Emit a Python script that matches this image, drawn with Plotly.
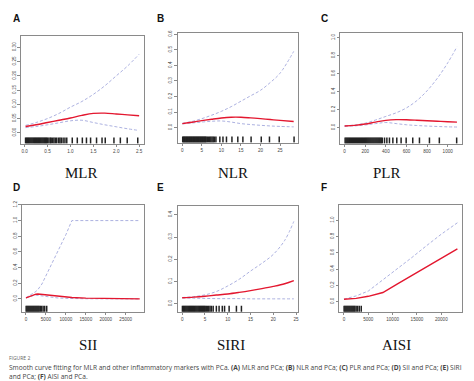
import plotly.graph_objects as go

W, H = 474, 381          # target window
OFF = 8                  # browser default body margin
FW, FH = W - OFF, H - OFF

# ---------------- data ----------------
# A: MLR
A_x = [0.02, 0.25, 0.5, 0.75, 1.0, 1.25, 1.5, 1.75, 2.0, 2.25, 2.5]
A_fit = [0.022, 0.028, 0.036, 0.044, 0.052, 0.061, 0.068, 0.069, 0.066, 0.063, 0.060]
A_upper = [0.026, 0.036, 0.050, 0.068, 0.090, 0.110, 0.135, 0.165, 0.200, 0.235, 0.276]
A_lower = [0.018, 0.022, 0.028, 0.035, 0.042, 0.044, 0.036, 0.028, 0.021, 0.014, 0.008]
A_rug = [0.02, 0.04, 0.06, 0.08, 0.1, 0.12, 0.14, 0.16, 0.18, 0.2, 0.22, 0.24, 0.26, 0.28,
         0.3, 0.32, 0.34, 0.36, 0.38, 0.4, 0.42, 0.44, 0.46, 0.48, 0.5, 0.53, 0.56, 0.58,
         0.61, 0.64, 0.67, 0.7, 0.74, 0.77, 0.8, 0.84, 0.88, 0.92, 1.04, 1.15, 1.26, 1.35,
         1.44, 1.57, 1.69, 1.76, 1.95, 2.09, 2.24, 2.47]
A_xticks = [0.0, 0.5, 1.0, 1.5, 2.0, 2.5]
A_xtext = ["0.0", "0.5", "1.0", "1.5", "2.0", "2.5"]
A_yticks = [0.0, 0.05, 0.10, 0.15, 0.20, 0.25, 0.30]
A_ytext = ["0.00", "0.05", "0.10", "0.15", "0.20", "0.25", "0.30"]

# B: NLR
B_x = [0, 2.5, 5, 7.5, 10, 12.5, 15, 17.5, 20, 22.5, 25, 28.5]
B_fit = [0.026, 0.035, 0.045, 0.054, 0.062, 0.067, 0.067, 0.063, 0.058, 0.052, 0.047, 0.040]
B_upper = [0.028, 0.040, 0.058, 0.080, 0.105, 0.135, 0.170, 0.205, 0.240, 0.290, 0.350, 0.490]
B_lower = [0.024, 0.030, 0.036, 0.041, 0.043, 0.036, 0.026, 0.020, 0.015, 0.011, 0.008, 0.005]
B_rug = [0.1, 0.3, 0.5, 0.7, 0.9, 1.1, 1.3, 1.5, 1.7, 1.9, 2.1, 2.3, 2.5, 2.7, 2.9, 3.1, 3.3,
         3.5, 3.7, 3.9, 4.1, 4.3, 4.5, 4.7, 4.9, 5.1, 5.3, 5.5, 5.7, 5.9, 6.1, 6.4, 6.7,
         7.0, 7.3, 7.6, 7.9, 8.2, 8.6, 9.6, 10.4, 11.3, 12.7, 14.2, 15.5, 17.6, 20.2, 22.3,
         24.8, 28.6]
B_xticks = [0, 5, 10, 15, 20, 25]
B_xtext = ["0", "5", "10", "15", "20", "25"]
B_yticks = [0.0, 0.1, 0.2, 0.3, 0.4, 0.5, 0.6]
B_ytext = ["0.0", "0.1", "0.2", "0.3", "0.4", "0.5", "0.6"]

# C: PLR
C_x = [0, 100, 200, 300, 400, 500, 600, 700, 800, 900, 1000, 1090]
C_fit = [0.018, 0.025, 0.040, 0.062, 0.081, 0.089, 0.088, 0.083, 0.077, 0.071, 0.066, 0.062]
C_upper = [0.020, 0.030, 0.050, 0.085, 0.125, 0.165, 0.220, 0.300, 0.410, 0.550, 0.720, 0.900]
C_lower = [0.016, 0.020, 0.030, 0.045, 0.057, 0.045, 0.032, 0.024, 0.018, 0.013, 0.009, 0.007]
C_rug = [5, 15, 25, 35, 45, 55, 65, 75, 85, 95, 105, 115, 125, 135, 145, 155, 165, 175, 185,
         195, 205, 215, 225, 235, 245, 255, 265, 275, 285, 295, 305, 315, 325, 335, 345,
         355, 365, 387, 410, 435, 468, 506, 548, 597, 661, 726, 823, 919, 1087]
C_xticks = [0, 200, 400, 600, 800, 1000]
C_xtext = ["0", "200", "400", "600", "800", "1000"]
C_yticks = [0.0, 0.2, 0.4, 0.6, 0.8, 1.0]
C_ytext = ["0.0", "0.2", "0.4", "0.6", "0.8", "1.0"]

# D: SII
D_x = [0, 1000, 2000, 2500, 3000, 4000, 6000, 8000, 10000, 11500, 15000, 20000, 25000, 28500]
D_fit = [0.013, 0.035, 0.055, 0.060, 0.063, 0.058, 0.045, 0.033, 0.022, 0.017, 0.010, 0.005, 0.002, 0.000]
D_upper = [0.015, 0.045, 0.075, 0.095, 0.120, 0.190, 0.400, 0.610, 0.820, 1.000, 1.000, 1.000, 1.000, 1.000]
D_lower = [0.011, 0.030, 0.045, 0.048, 0.045, 0.035, 0.020, 0.012, 0.007, 0.004, 0.002, 0.001, 0.0005, 0.0]
D_rug = [50, 300, 550, 800, 1050, 1300, 1550, 1800, 2050, 2300, 2550, 2800, 3050, 3300,
         3600, 3900, 4300, 4700, 5200]
D_xticks = [0, 5000, 10000, 15000, 20000, 25000]
D_xtext = ["0", "5000", "10000", "15000", "20000", "25000"]
D_yticks = [0.0, 0.2, 0.4, 0.6, 0.8, 1.0, 1.2]
D_ytext = ["0.0", "0.2", "0.4", "0.6", "0.8", "1.0", "1.2"]

# E: SIRI
E_x = [0, 2.5, 5, 7.5, 10, 12.5, 15, 17.5, 20, 22.5, 24.5]
E_fit = [0.027, 0.030, 0.034, 0.039, 0.044, 0.051, 0.059, 0.068, 0.078, 0.090, 0.104]
E_upper = [0.028, 0.032, 0.040, 0.055, 0.080, 0.110, 0.147, 0.182, 0.222, 0.285, 0.370]
E_lower = [0.026, 0.025, 0.024, 0.023, 0.023, 0.023, 0.022, 0.022, 0.022, 0.022, 0.022]
E_rug = [0.05, 0.25, 0.45, 0.65, 0.85, 1.05, 1.25, 1.45, 1.65, 1.85, 2.05, 2.25, 2.45, 2.65,
         2.85, 3.05, 3.25, 3.45, 3.65, 3.85, 4.05, 4.25, 4.45, 4.65, 4.85, 5.05, 5.3, 5.55,
         5.8, 6.1, 6.4, 6.8, 7.5, 8.1, 8.8, 9.3, 10.3, 11.9, 13.0]
E_xticks = [0, 5, 10, 15, 20, 25]
E_xtext = ["0", "5", "10", "15", "20", "25"]
E_yticks = [0.0, 0.1, 0.2, 0.3, 0.4]
E_ytext = ["0.0", "0.1", "0.2", "0.3", "0.4"]

# F: AISI
F_x = [0, 2500, 5000, 8000, 11000, 14000, 17000, 20000, 23300]
F_fit = [0.028, 0.040, 0.065, 0.112, 0.218, 0.324, 0.429, 0.534, 0.650]
F_upper = [0.030, 0.070, 0.130, 0.265, 0.400, 0.545, 0.690, 0.830, 0.970]
F_lower = []
F_rug = [30, 230, 430, 630, 830, 1030, 1230, 1430, 1630, 1830, 2030, 2230, 2500, 2800,
         3150, 3550]
F_xticks = [0, 5000, 10000, 15000, 20000]
F_xtext = ["0", "5000", "10000", "15000", "20000"]
F_yticks = [0.0, 0.2, 0.4, 0.6, 0.8, 1.0]
F_ytext = ["0.0", "0.2", "0.4", "0.6", "0.8", "1.0"]

panel_letters = ["A", "B", "C", "D", "E", "F"]
panel_titles = ["MLR", "NLR", "PLR", "SII", "SIRI", "AISI"]

# ---------------- layout geometry (window pixels) ----------------
panels = [
    dict(x=A_x, fit=A_fit, up=A_upper, lo=A_lower, rug=A_rug, xt=A_xticks, xtt=A_xtext,
         yt=A_yticks, ytt=A_ytext, xr=[-0.08, 2.6], yr=[-0.038, 0.341],
         box=(21, 144, 32, 141), lab=(17, 15), tit=(82, 171), shape="spline"),
    dict(x=B_x, fit=B_fit, up=B_upper, lo=B_lower, rug=B_rug, xt=B_xticks, xtt=B_xtext,
         yt=B_yticks, ytt=B_ytext, xr=[-1.2, 29.7], yr=[-0.096, 0.61],
         box=(178, 299, 29, 140), lab=(161, 15), tit=(233, 171), shape="spline"),
    dict(x=C_x, fit=C_fit, up=C_upper, lo=C_lower, rug=C_rug, xt=C_xticks, xtt=C_xtext,
         yt=C_yticks, ytt=C_ytext, xr=[-42, 1139], yr=[-0.177, 1.055],
         box=(341, 463, 29, 141), lab=(325, 15), tit=(388, 171), shape="spline"),
    dict(x=D_x, fit=D_fit, up=D_upper, lo=D_lower, rug=D_rug, xt=D_xticks, xtt=D_xtext,
         yt=D_yticks, ytt=D_ytext, xr=[-1000, 29500], yr=[-0.164, 1.2],
         box=(22, 144, 203, 311), lab=(17, 185), tit=(88, 345), shape="linear"),
    dict(x=E_x, fit=E_fit, up=E_upper, lo=E_lower, rug=E_rug, xt=E_xticks, xtt=E_xtext,
         yt=E_yticks, ytt=E_ytext, xr=[-1.0, 25.5], yr=[-0.036, 0.44],
         box=(178, 299, 204, 311), lab=(161, 185), tit=(231, 345), shape="spline"),
    dict(x=F_x, fit=F_fit, up=F_upper, lo=F_lower, rug=F_rug, xt=F_xticks, xtt=F_xtext,
         yt=F_yticks, ytt=F_ytext, xr=[-960, 24250], yr=[-0.125, 1.19],
         box=(340, 463, 203, 311), lab=(325, 185), tit=(397, 345), shape="linear"),
]


def px(xp):
    return (xp - OFF) / FW


def py(yp):
    return 1 - (yp - OFF) / FH


RED = "#e3172f"
CI = "#a3a8dc"
FRAME = "#8a8a8a"

fig = go.Figure()
annotations = []
layout_axes = {}

for i, p in enumerate(panels):
    n = "" if i == 0 else str(i + 1)
    xa, ya = "x" + n, "y" + n
    l, r, t, b = p["box"]
    ymin, ymax = p["yr"]
    fig.add_trace(go.Scatter(x=p["x"], y=p["up"], xaxis=xa, yaxis=ya, mode="lines",
                             line=dict(color=CI, width=0.9, dash="3px,2px", shape=p["shape"]),
                             showlegend=False, hoverinfo="skip"))
    if p["lo"]:
        fig.add_trace(go.Scatter(x=p["x"], y=p["lo"], xaxis=xa, yaxis=ya, mode="lines",
                                 line=dict(color=CI, width=0.9, dash="3px,2px", shape=p["shape"]),
                                 showlegend=False, hoverinfo="skip"))
    fig.add_trace(go.Scatter(x=p["x"], y=p["fit"], xaxis=xa, yaxis=ya, mode="lines",
                             line=dict(color=RED, width=1.4, shape=p["shape"]),
                             showlegend=False, hoverinfo="skip"))
    frac = 3.0 / (b - t)
    rug_y = [ymin + frac * (ymax - ymin)] * len(p["rug"])
    fig.add_trace(go.Scatter(x=p["rug"], y=rug_y, xaxis=xa, yaxis=ya, mode="markers",
                             marker=dict(symbol="line-ns", size=4.5,
                                         line=dict(color="#222", width=1.5)),
                             showlegend=False, hoverinfo="skip"))
    common = dict(showline=True, mirror=True, linecolor=FRAME, linewidth=1,
                  ticks="outside", ticklen=2.5, tickcolor=FRAME, tickwidth=0.8,
                  showgrid=False, zeroline=False,
                  tickfont=dict(family="Liberation Sans, Arial", size=4.6, color="#444"))
    layout_axes["xaxis" + n] = dict(common, domain=[px(l), px(r)], range=p["xr"],
                                    anchor=ya, tickvals=p["xt"], ticktext=p["xtt"])
    layout_axes["yaxis" + n] = dict(common, domain=[py(b), py(t)], range=p["yr"],
                                    anchor=xa, tickvals=p["yt"], ticktext=p["ytt"],
                                    tickangle=-90)
    lx, ly = p["lab"]
    annotations.append(dict(text="<b>" + panel_letters[i] + "</b>", x=px(lx), y=py(ly),
                            xref="paper", yref="paper", showarrow=False,
                            xanchor="center", yanchor="middle",
                            font=dict(family="Liberation Sans, Arial", size=10, color="#111")))
    tx, ty = p["tit"]
    annotations.append(dict(text=panel_titles[i], x=px(tx), y=py(ty),
                            xref="paper", yref="paper", showarrow=False,
                            xanchor="center", yanchor="middle",
                            font=dict(family="Liberation Serif, Times New Roman", size=15,
                                      color="#111")))

caption_head = "FIGURE 2"
caption_line1 = ("Smooth curve fitting for MLR and other inflammatory markers with PCa. "
                 "<b>(A)</b> MLR and PCa; <b>(B)</b> NLR and PCa; <b>(C)</b> PLR and PCa; "
                 "<b>(D)</b> SII and PCa; <b>(E)</b> SIRI")
caption_line2 = "and PCa; <b>(F)</b> AISI and PCa."

CAP_X = 8.5
annotations.append(dict(text=caption_head, x=px(CAP_X), y=py(358), xref="paper", yref="paper",
                        showarrow=False, xanchor="left", yanchor="middle", xshift=-1,
                        font=dict(family="Open Sans", size=5, color="#666")))
annotations.append(dict(text=caption_line1, x=px(CAP_X), y=py(367), xref="paper", yref="paper",
                        showarrow=False, xanchor="left", yanchor="middle", xshift=-1,
                        font=dict(family="Open Sans", size=6.6, color="#444")))
annotations.append(dict(text=caption_line2, x=px(CAP_X), y=py(376), xref="paper", yref="paper",
                        showarrow=False, xanchor="left", yanchor="middle", xshift=-1,
                        font=dict(family="Open Sans", size=6.6, color="#444")))

fig.update_layout(width=FW, height=FH, margin=dict(l=0, r=0, t=0, b=0),
                  paper_bgcolor="white", plot_bgcolor="white",
                  annotations=annotations, **layout_axes)

fig.write_html("out.html")
